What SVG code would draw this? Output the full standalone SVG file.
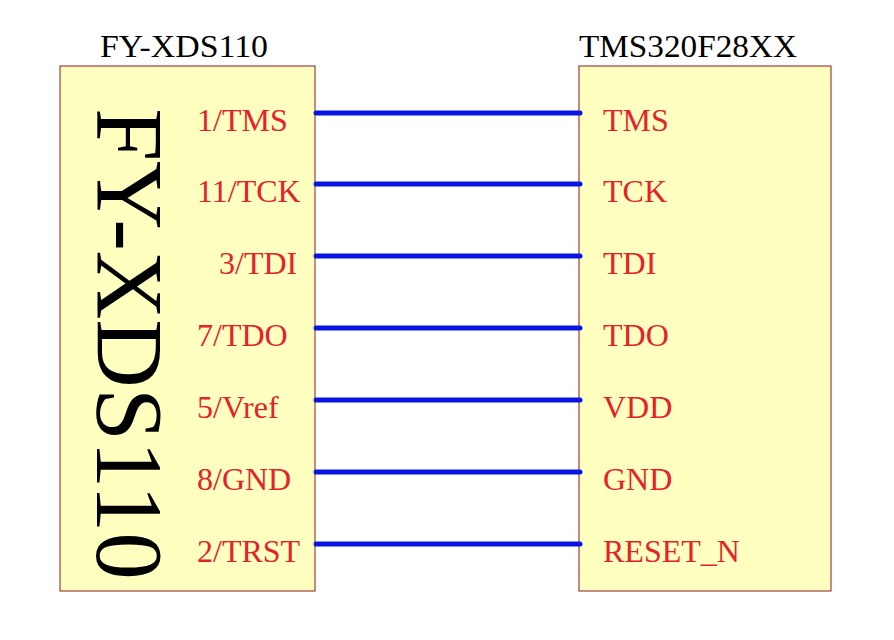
<svg xmlns="http://www.w3.org/2000/svg" width="894" height="640" viewBox="0 0 894 640">
<style>
.box{fill:#ffffc0;stroke:#8b1a1a;stroke-width:1}
.t{font-family:"Liberation Serif",serif;font-size:31px;fill:#000}
.l{font-family:"Liberation Serif",serif;font-size:32px;fill:#e8202a}
.w{stroke:#0a14e0;stroke-width:5;stroke-linecap:round}
</style>
<rect width="894" height="640" fill="#fff"/>
<g id="xds110">
<rect class="box" x="60" y="66" width="255" height="525"/>
<text class="t" x="100" y="57" textLength="168" lengthAdjust="spacingAndGlyphs">FY-XDS110</text>
<text font-family="Liberation Serif,serif" font-size="95" text-anchor="middle" transform="translate(97,344) rotate(90)">FY-XDS110</text>
<text class="l" x="197" y="131">1/TMS</text>
<text class="l" x="197" y="202">11/TCK</text>
<text class="l" x="219" y="274">3/TDI</text>
<text class="l" x="197" y="346">7/TDO</text>
<text class="l" x="197" y="418">5/Vref</text>
<text class="l" x="197" y="490">8/GND</text>
<text class="l" x="197" y="562">2/TRST</text>
</g>
<g id="tms320">
<rect class="box" x="579" y="66" width="252" height="525"/>
<text class="t" x="579" y="57" textLength="218" lengthAdjust="spacingAndGlyphs">TMS320F28XX</text>
<text class="l" x="603" y="131">TMS</text>
<text class="l" x="603" y="202">TCK</text>
<text class="l" x="603" y="274">TDI</text>
<text class="l" x="603" y="346">TDO</text>
<text class="l" x="603" y="418">VDD</text>
<text class="l" x="603" y="490">GND</text>
<text class="l" x="603" y="562">RESET_N</text>
</g>
<g id="connectors">
<line class="w" x1="316" y1="113" x2="580" y2="113"/>
<line class="w" x1="316" y1="184" x2="580" y2="184"/>
<line class="w" x1="316" y1="256" x2="580" y2="256"/>
<line class="w" x1="316" y1="328" x2="580" y2="328"/>
<line class="w" x1="316" y1="400" x2="580" y2="400"/>
<line class="w" x1="316" y1="472" x2="580" y2="472"/>
<line class="w" x1="316" y1="544" x2="580" y2="544"/>
</g>
</svg>
